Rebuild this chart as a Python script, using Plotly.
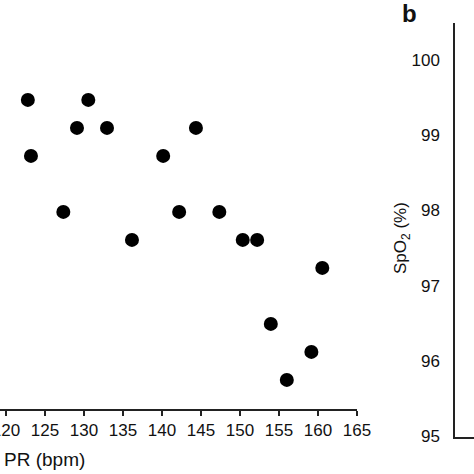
import plotly.graph_objects as go

# Data
pr_bpm = [122.8, 130.55, 129.1, 132.95, 144.35, 123.2, 140.15, 127.35, 142.2,
          147.35, 136.15, 150.35, 152.2, 160.55, 153.95, 159.15, 156.0]
spo2_left = [99.5, 99.5, 99.125, 99.125, 99.125, 98.75, 98.75, 98.0, 98.0,
             98.0, 97.625, 97.625, 97.625, 97.25, 96.5, 96.125, 95.75]
x_ticks = [120, 125, 130, 135, 140, 145, 150, 155, 160, 165]
y_ticks_b = [95, 96, 97, 98, 99, 100]

W = H = 474
FONT = "Liberation Sans, Arial, sans-serif"

def px(x):
    return x / W

def py(y):
    return 1 - y / H

fig = go.Figure()
fig.add_trace(go.Scatter(
    x=pr_bpm, y=spo2_left, mode="markers", xaxis="x", yaxis="y",
    marker=dict(color="black", size=14, line=dict(width=0)),
    showlegend=False, hoverinfo="skip"))
fig.add_trace(go.Scatter(x=[], y=[], xaxis="x2", yaxis="y2", showlegend=False))

fig.update_layout(
    width=W, height=H,
    margin=dict(l=0, r=0, t=0, b=0),
    paper_bgcolor="white", plot_bgcolor="white",
    font=dict(family=FONT, color="#111111"),
    xaxis=dict(domain=[0, px(357)], range=[119.23, 165], anchor="y",
               automargin=False,
               showline=True, linecolor="#222222", linewidth=1.5,
               ticks="outside", ticklen=5, tickwidth=1.5, tickcolor="#222222",
               tickvals=x_ticks, showgrid=False, zeroline=False,
               ticklabeloverflow="allow",
               tickfont=dict(size=17, family=FONT, color="#111111")),
    yaxis=dict(domain=[py(409), py(23)], range=[95.36, 100.53], anchor="x",
               automargin=False,
               visible=False, showgrid=False, zeroline=False),
    xaxis2=dict(domain=[px(455), 1], range=[0, 1], anchor="y2",
                automargin=False,
                showline=True, linecolor="#222222", linewidth=1.5,
                showticklabels=False, ticks="", showgrid=False, zeroline=False),
    yaxis2=dict(domain=[py(436.5), py(23)], range=[95, 100.49], anchor="x2",
                automargin=False,
                showline=True, linecolor="#222222", linewidth=1.5,
                ticks="", tickvals=y_ticks_b, showgrid=False, zeroline=False,
                ticklabelstandoff=10,
                tickfont=dict(size=17, family=FONT, color="#111111")),
    annotations=[
        dict(text="PR (bpm)", x=px(44), y=py(459), xref="paper", yref="paper",
             showarrow=False, xanchor="center", yanchor="middle",
             font=dict(size=19, family=FONT, color="#111111")),
        dict(text="SpO<sub>2</sub> (%)", x=px(402), y=py(238), xref="paper", yref="paper",
             showarrow=False, xanchor="center", yanchor="middle", textangle=-90,
             font=dict(size=17, family=FONT, color="#111111")),
        dict(text="<b>b</b>", x=px(409.5), y=py(14), xref="paper", yref="paper",
             showarrow=False, xanchor="center", yanchor="middle",
             font=dict(size=24, family=FONT, color="#111111")),
    ],
)

fig.write_html(
    "out.html",
    post_script="document.body.style.margin='0';document.body.style.overflow='hidden';"
                "document.documentElement.style.overflow='hidden';",
)
